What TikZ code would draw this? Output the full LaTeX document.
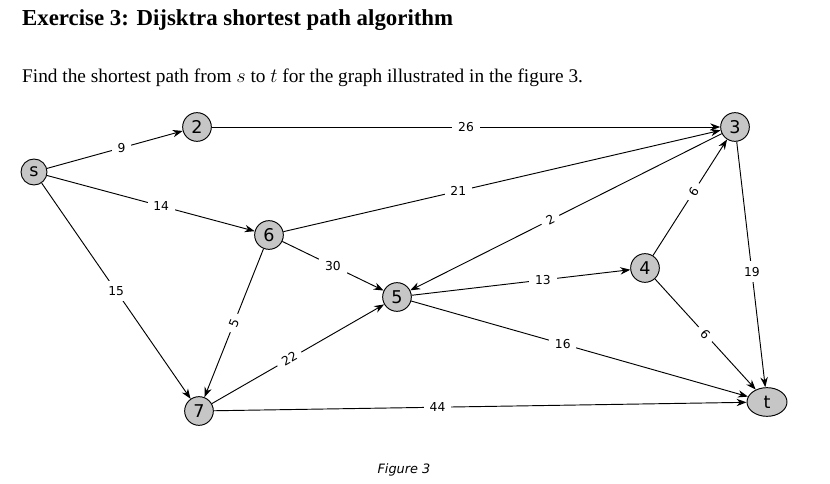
\documentclass[tikz,border=0pt]{standalone}
\usepackage{fontspec}
\setmainfont{Liberation Serif}
\newfontfamily\lblfont{DejaVu Sans}
\usetikzlibrary{arrows.meta,shapes.geometric}
\begin{document}
\begin{tikzpicture}[x=0.03cm,y=-0.03cm,
  vert/.style={circle,draw,thick,fill=gray!45,minimum size=0.86cm,inner sep=0pt,font=\lblfont\fontsize{15}{15}\selectfont},
  edge/.style={thick,-{Stealth[length=3mm,width=2.2mm]}},
  wt/.style={fill=white,inner sep=5pt,font=\lblfont\fontsize{10.5}{11}\selectfont}]
\useasboundingbox (0,0) rectangle (830,484);
\node[anchor=west,font=\fontsize{19.5}{22}\selectfont\bfseries] (title) at (18,20) {Exercise 3: Dijsktra shortest path algorithm};
\node[anchor=west,font=\fontsize{16.5}{18}\selectfont] (txt) at (18,78) {Find the shortest path from $s$ to $t$ for the graph illustrated in the figure 3.};
\node[vert,minimum size=0.78cm] (s) at (34,172) {s};
\node[vert] (n2) at (197,127) {2};
\node[vert] (n3) at (735,127) {3};
\node[vert] (n6) at (269,235) {6};
\node[vert] (n5) at (397,297) {5};
\node[vert] (n4) at (645,268) {4};
\node[vert] (n7) at (199,411) {7};
\node[vert,ellipse,minimum width=1.2cm,minimum height=0.86cm] (t) at (767,402) {t};
\draw[edge] (s) -- node[wt,pos=0.55]{9} (n2);
\draw[edge] (n2) -- node[wt,pos=0.5]{26} (n3);
\draw[edge] (s) -- node[wt,pos=0.55]{14} (n6);
\draw[edge] (s) -- node[wt,pos=0.5]{15} (n7);
\draw[edge] (n6) -- node[wt,pos=0.4]{21} (n3);
\draw[edge] (n6) -- node[wt,pos=0.5]{30} (n5);
\draw[edge] (n6) -- node[wt,pos=0.5,sloped]{5} (n7);
\draw[edge] (n3) -- node[wt,pos=0.55,sloped]{2} (n5);
\draw[edge] (n5) -- node[wt,pos=0.6]{13} (n4);
\draw[edge] (n4) -- node[wt,pos=0.55,sloped]{6} (n3);
\draw[edge] (n3) -- node[wt,pos=0.53]{19} (t);
\draw[edge] (n4) -- node[wt,pos=0.5,sloped]{6} (t);
\draw[edge] (n5) -- node[wt,pos=0.45]{16} (t);
\draw[edge] (n7) -- node[wt,pos=0.45,sloped]{22} (n5);
\draw[edge] (n7) -- node[wt,pos=0.42]{44} (t);
\node[font=\lblfont\itshape\fontsize{11}{12}\selectfont] (cap) at (404,470) {Figure 3};
\end{tikzpicture}
\end{document}
